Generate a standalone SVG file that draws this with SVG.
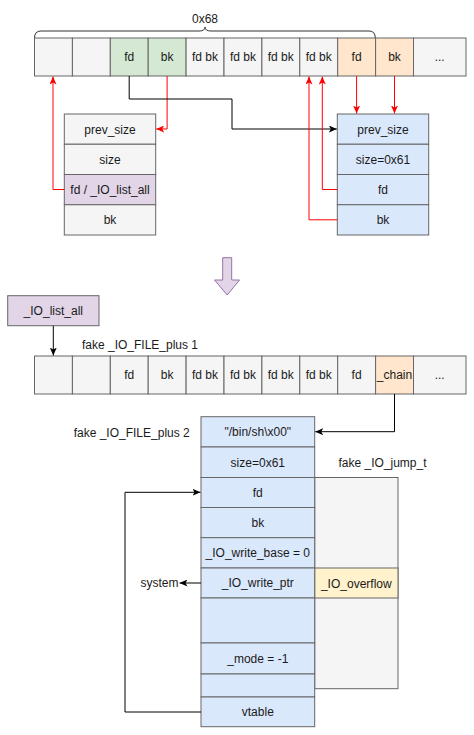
<svg xmlns="http://www.w3.org/2000/svg" width="474" height="735" viewBox="0 0 474 735">
<style>
text{font-family:"Liberation Sans",Arial,sans-serif;font-size:12px;fill:#1a1a1a;text-anchor:middle}
.c{stroke:#666;stroke-width:1}
.g{fill:#f5f5f5}.gr{fill:#d5e8d4}.o{fill:#ffe6cc}.b{fill:#dae8fc}.p{fill:#e1d5e7}.y{fill:#fff2cc}
.red{fill:none;stroke:#ff0000;stroke-width:1}
.blk{fill:none;stroke:#000;stroke-width:1}
</style>
<defs>
<marker id="ar" viewBox="0 0 8 7" refX="8" refY="3.5" markerWidth="8" markerHeight="7" orient="auto" markerUnits="userSpaceOnUse"><path d="M0,0 L8,3.5 L0,7 L2,3.5 z" fill="#ff0000"/></marker>
<marker id="ab" viewBox="0 0 8 7" refX="8" refY="3.5" markerWidth="8" markerHeight="7" orient="auto" markerUnits="userSpaceOnUse"><path d="M0,0 L8,3.5 L0,7 L2,3.5 z" fill="#000"/></marker>
</defs>

<g id="brace">
<path d="M34.5,38 Q34.5,31 41,31 L199,31 Q205,31 205,27 Q205,31 211,31 L369,31 Q375.3,31 375.3,38" fill="none" stroke="#333" stroke-width="1"/>
<text x="205" y="23">0x68</text>
</g>

<g id="row1">
<rect class="c g" x="34.5" y="38" width="37.9" height="38"/>
<rect class="c g" x="72.4" y="38" width="37.9" height="38"/>
<rect class="c gr" x="110.3" y="38" width="37.9" height="38"/><text x="129.2" y="61">fd</text>
<rect class="c gr" x="148.2" y="38" width="37.9" height="38"/><text x="167.1" y="61">bk</text>
<rect class="c g" x="186.1" y="38" width="37.9" height="38"/><text x="205" y="61">fd bk</text>
<rect class="c g" x="224" y="38" width="37.9" height="38"/><text x="242.9" y="61">fd bk</text>
<rect class="c g" x="261.9" y="38" width="37.9" height="38"/><text x="280.8" y="61">fd bk</text>
<rect class="c g" x="299.8" y="38" width="37.9" height="38"/><text x="318.7" y="61">fd bk</text>
<rect class="c o" x="337.7" y="38" width="37.9" height="38"/><text x="356.6" y="61">fd</text>
<rect class="c o" x="375.6" y="38" width="37.9" height="38"/><text x="394.5" y="61">bk</text>
<rect class="c g" x="413.5" y="38" width="52.5" height="38"/><text x="439.7" y="61">...</text>
</g>

<g id="chunkA">
<rect class="c g" x="64.3" y="114" width="91.4" height="30.25"/><text x="110" y="133.5">prev_size</text>
<rect class="c g" x="64.3" y="144.25" width="91.4" height="30.25"/><text x="110" y="163.7">size</text>
<rect class="c p" x="64.3" y="174.5" width="91.4" height="30.25"/><text x="110" y="194">fd / _IO_list_all</text>
<rect class="c g" x="64.3" y="204.75" width="91.4" height="30.25"/><text x="110" y="224.2">bk</text>
</g>

<g id="chunkB">
<rect class="c b" x="337.3" y="114" width="91.4" height="30.25"/><text x="383" y="133.5">prev_size</text>
<rect class="c b" x="337.3" y="144.25" width="91.4" height="30.25"/><text x="383" y="163.7">size=0x61</text>
<rect class="c b" x="337.3" y="174.5" width="91.4" height="30.25"/><text x="383" y="194">fd</text>
<rect class="c b" x="337.3" y="204.75" width="91.4" height="30.25"/><text x="383" y="224.2">bk</text>
</g>

<g id="downArrow">
<polygon points="222.7,257.7 231.7,257.7 231.7,280 239.5,280 227.2,295 214.5,280 222.7,280" fill="#e1d5e7" stroke="#9673a6" stroke-width="1"/>
</g>

<g id="ioListAll">
<rect class="c p" x="7.7" y="295.7" width="91.3" height="30"/><text x="53.3" y="315">_IO_list_all</text>
</g>

<g id="row2">
<text x="140" y="349">fake _IO_FILE_plus 1</text>
<rect class="c g" x="34.5" y="356" width="37.9" height="38"/>
<rect class="c g" x="72.4" y="356" width="37.9" height="38"/>
<rect class="c g" x="110.3" y="356" width="37.9" height="38"/><text x="129.2" y="379">fd</text>
<rect class="c g" x="148.2" y="356" width="37.9" height="38"/><text x="167.1" y="379">bk</text>
<rect class="c g" x="186.1" y="356" width="37.9" height="38"/><text x="205" y="379">fd bk</text>
<rect class="c g" x="224" y="356" width="37.9" height="38"/><text x="242.9" y="379">fd bk</text>
<rect class="c g" x="261.9" y="356" width="37.9" height="38"/><text x="280.8" y="379">fd bk</text>
<rect class="c g" x="299.8" y="356" width="37.9" height="38"/><text x="318.7" y="379">fd bk</text>
<rect class="c g" x="337.7" y="356" width="37.9" height="38"/><text x="356.6" y="379">fd</text>
<rect class="c o" x="375.6" y="356" width="37.9" height="38"/><text x="394.5" y="379">_chain</text>
<rect class="c g" x="413.5" y="356" width="52.5" height="38"/><text x="439.7" y="379">...</text>
</g>

<g id="jumpTable">
<text x="382.5" y="467">fake _IO_jump_t</text>
<rect class="c g" x="314.7" y="477.5" width="83.3" height="211.2"/>
<rect class="c y" x="314.7" y="568" width="83.3" height="30"/><text x="356.3" y="587.5">_IO_overflow</text>
</g>

<g id="fileStack">
<text x="131.7" y="437">fake _IO_FILE_plus 2</text>
<rect class="c b" x="201" y="416.7" width="113.7" height="30.3"/><text x="257.8" y="436">"/bin/sh\x00"</text>
<rect class="c b" x="201" y="447" width="113.7" height="30.5"/><text x="257.8" y="466.5">size=0x61</text>
<rect class="c b" x="201" y="477.5" width="113.7" height="30"/><text x="257.8" y="496.7">fd</text>
<rect class="c b" x="201" y="507.5" width="113.7" height="30.2"/><text x="257.8" y="526.8">bk</text>
<rect class="c b" x="201" y="537.7" width="113.7" height="30.3"/><text x="257.8" y="557">_IO_write_base = 0</text>
<rect class="c b" x="201" y="568" width="113.7" height="30"/><text x="257.8" y="587.2">_IO_write_ptr</text>
<rect class="c b" x="201" y="598" width="113.7" height="45"/>
<rect class="c b" x="201" y="643" width="113.7" height="31"/><text x="257.8" y="662.7">_mode = -1</text>
<rect class="c b" x="201" y="674" width="113.7" height="23"/>
<rect class="c b" x="201" y="697" width="113.7" height="29.7"/><text x="257.8" y="716">vtable</text>
</g>

<g id="connectors">
<path class="red" d="M64.3,189.5 H53 V76.5" marker-end="url(#ar)"/>
<path class="red" d="M167.1,76 V129 H156.2" marker-end="url(#ar)"/>
<path class="blk" d="M129.2,76 V99 H232 V129 H336.8" marker-end="url(#ab)"/>
<path class="red" d="M356.6,76 V113.5" marker-end="url(#ar)"/>
<path class="red" d="M394.5,76 V113.5" marker-end="url(#ar)"/>
<path class="red" d="M337.3,189.5 H322.3 V76.5" marker-end="url(#ar)"/>
<path class="red" d="M337.3,219.8 H309 V76.5" marker-end="url(#ar)"/>
<path class="blk" d="M53.3,325.7 V355.5" marker-end="url(#ab)"/>
<path class="blk" d="M394.5,394 V431.7 H315.2" marker-end="url(#ab)"/>
<path class="blk" d="M201,712 H125 V492.3 H200.5" marker-end="url(#ab)"/>
<path class="blk" d="M201,583 H179.5" marker-end="url(#ab)"/>
<text x="159.5" y="587">system</text>
</g>
</svg>
